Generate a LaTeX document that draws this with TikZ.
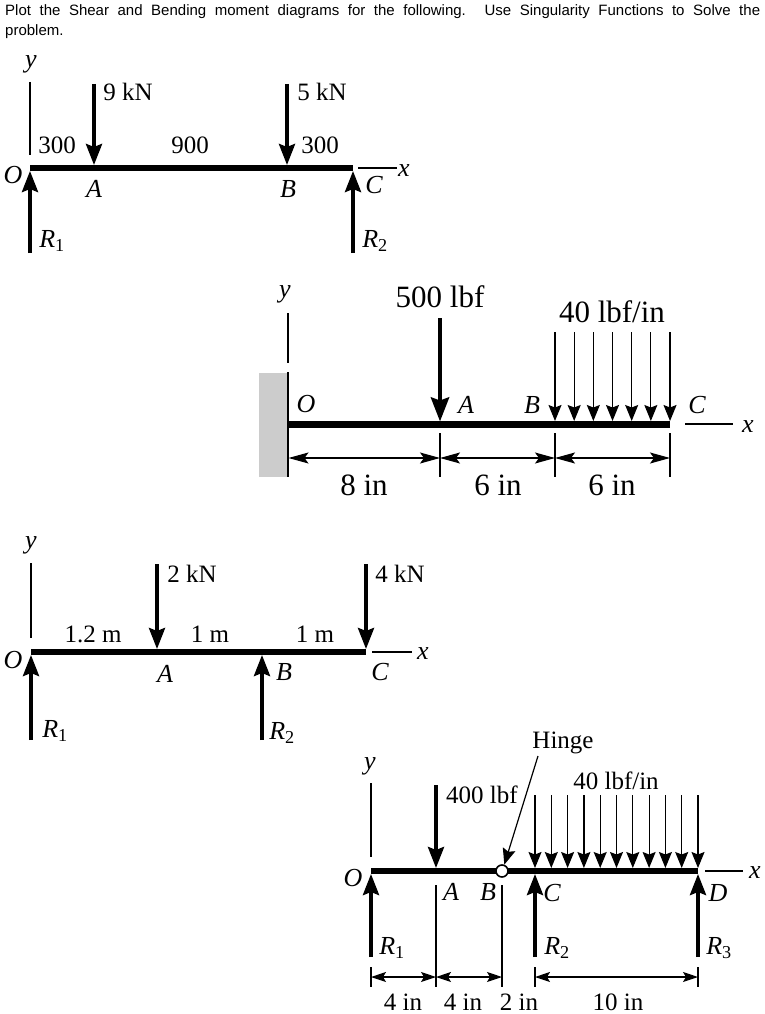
\documentclass[tikz,border=0pt]{standalone}
\usepackage{fontspec}
\setmainfont{Liberation Serif}
\newfontfamily\headfont{Liberation Sans}
\usetikzlibrary{arrows.meta}
\newcommand{\fsz}[1]{\fontsize{#1}{#1}\selectfont}
\tikzset{
  beam/.style={line width=6pt},
  thinline/.style={line width=1.1pt},
  load/.style={line width=3.8pt, shorten >=3pt, -{Stealth[length=21pt,width=16pt,inset=3pt]}},
  dist/.style={line width=1.2pt, -{Stealth[length=16pt,width=13pt,inset=2.5pt]}},
  dim/.style={line width=1.1pt, {Stealth[length=15pt,width=10pt,inset=3pt]}-{Stealth[length=15pt,width=10pt,inset=3pt]}},
  lab/.style={inner sep=0pt, font=\fsz{25}},
  big/.style={inner sep=0pt, font=\fsz{31}},
  var/.style={inner sep=0pt, font=\fsz{26}\itshape}
}
\begin{document}
\begin{tikzpicture}[x=1pt,y=-1pt]
\useasboundingbox (0,0) rectangle (765,1014);
\node (title) [anchor=north west, inner sep=0pt, text width=755pt, font=\headfont\fontsize{15}{19.5}\selectfont, align=justify] at (5,4.5)
  {Plot the Shear and Bending moment diagrams for the following. Use Singularity Functions to Solve the\linebreak problem.};
% first beam
\coordinate (O1) at (30,168);
\coordinate (A1) at (94,168);
\coordinate (B1) at (287,168);
\coordinate (C1) at (353,168);
\coordinate (y1a) at (30,82);
\coordinate (y1b) at (30,155);
\coordinate (x1a) at (358,168);
\coordinate (x1b) at (397,168);
\coordinate (F1) at (94,84);
\coordinate (F2) at (287,84);
\coordinate (R1a) at (30,253);
\coordinate (R1b) at (353,253);
\draw [beam] (O1) -- (C1);
\draw [thinline] (y1a) -- (y1b);
\draw [thinline] (x1a) -- (x1b);
\draw [load] (F1) -- (A1);
\draw [load] (F2) -- (B1);
\draw [load] (R1a) -- (O1);
\draw [load] (R1b) -- (C1);
\node (ylab1) [var] at (31,64) {y};
\node (xlab1) [var] at (404,171) {x};
\node (Olab1) [var] at (13,175) {O};
\node (Alab1) [var] at (94,189) {A};
\node (Blab1) [var] at (288,189) {B};
\node (Clab1) [var] at (374,185) {C};
\node (R1lab1) [var] at (52,241) {R\textsubscript{\upshape 1}};
\node (R2lab1) [var] at (375,241) {R\textsubscript{\upshape 2}};
\node (Flab1) [lab] at (128,92) {9 kN};
\node (Flab2) [lab] at (322,92) {5 kN};
\node (d1a) [lab] at (57,145) {300};
\node (d1b) [lab] at (190,145) {900};
\node (d1c) [lab] at (320,145) {300};
% second beam
\coordinate (O2) at (288,424.5);
\coordinate (A2) at (440,424.5);
\coordinate (B2) at (555,424.5);
\coordinate (C2) at (670,424.5);
\coordinate (y2a) at (288,313);
\coordinate (y2b) at (288,363);
\coordinate (x2a) at (685,424);
\coordinate (x2b) at (733,424);
\coordinate (F3) at (440,318);
\node (wall) [fill=black!20, minimum width=29pt, minimum height=104pt, inner sep=0pt] at (273.5,424.5) {};
\draw [line width=1.8pt] (wall.north east) -- (wall.south east);
\draw [beam, line width=6.5pt] (O2) -- (C2);
\draw [thinline] (y2a) -- (y2b);
\draw [thinline] (x2a) -- (x2b);
\draw [load, line width=4.5pt, -{Stealth[length=24pt,width=18pt,inset=3pt]}] (F3) -- (A2);
\foreach \n in {0,...,6} {
  \coordinate (qa\n) at ({555+\n*19.17},332);
  \coordinate (qb\n) at ({555+\n*19.17},421);
  \draw [dist] (qa\n) -- (qb\n);
}
\coordinate (t2a) at (440,433);
\coordinate (t2b) at (440,477);
\coordinate (t3a) at (555,433);
\coordinate (t3b) at (555,477);
\coordinate (t4a) at (670,433);
\coordinate (t4b) at (670,477);
\draw [thinline] (t2a) -- (t2b);
\draw [thinline] (t3a) -- (t3b);
\draw [thinline] (t4a) -- (t4b);
\coordinate (e1) at (288.5,458);
\coordinate (e2) at (440,458);
\coordinate (e3) at (555,458);
\coordinate (e4) at (670,458);
\draw [dim, {Stealth[length=20pt,width=11pt,inset=4pt]}-{Stealth[length=20pt,width=11pt,inset=4pt]}] (e1) -- (e2);
\draw [dim, {Stealth[length=20pt,width=11pt,inset=4pt]}-{Stealth[length=20pt,width=11pt,inset=4pt]}] (e2) -- (e3);
\draw [dim, {Stealth[length=20pt,width=11pt,inset=4pt]}-{Stealth[length=20pt,width=11pt,inset=4pt]}] (e3) -- (e4);
\node (ylab2) [var] at (285,294) {y};
\node (xlab2) [var] at (748,427) {x};
\node (Olab2) [var] at (306,404) {O};
\node (Alab2) [var] at (466,405) {A};
\node (Blab2) [var] at (532,405) {B};
\node (Clab2) [var] at (697,405) {C};
\node (Flab3) [big] at (440,297) {500 lbf};
\node (qlab2) [big] at (612,312) {40 lbf/in};
\node (d2a) [big] at (364,485) {8 in};
\node (d2b) [big] at (498,485) {6 in};
\node (d2c) [big] at (612,485) {6 in};
% third beam
\coordinate (O3) at (31,652);
\coordinate (A3) at (157,652);
\coordinate (B3) at (262,652);
\coordinate (C3) at (366,652);
\coordinate (y3a) at (31,563);
\coordinate (y3b) at (31,638);
\coordinate (x3a) at (372,652);
\coordinate (x3b) at (412,652);
\coordinate (F4) at (157,564);
\coordinate (F5) at (366,564);
\coordinate (R3a) at (31,740);
\coordinate (R3b) at (262,740);
\draw [beam] (O3) -- (C3);
\draw [thinline] (y3a) -- (y3b);
\draw [thinline] (x3a) -- (x3b);
\draw [load] (F4) -- (A3);
\draw [load] (F5) -- (C3);
\draw [load] (R3a) -- (O3);
\draw [load] (R3b) -- (B3);
\node (ylab3) [var] at (31,545) {y};
\node (xlab3) [var] at (423,654) {x};
\node (Olab3) [var] at (13,660) {O};
\node (Alab3) [var] at (165,674) {A};
\node (Blab3) [var] at (284,672) {B};
\node (Clab3) [var] at (380,672) {C};
\node (R1lab3) [var] at (55,731) {R\textsubscript{\upshape 1}};
\node (R2lab3) [var] at (282,733) {R\textsubscript{\upshape 2}};
\node (Flab4) [lab] at (192,574) {2 kN};
\node (Flab5) [lab] at (400,574) {4 kN};
\node (d3a) [lab] at (93,634) {1.2 m};
\node (d3b) [lab] at (210,634) {1 m};
\node (d3c) [lab] at (315,634) {1 m};
% fourth beam
\coordinate (O4) at (371,871);
\coordinate (A4) at (436,871);
\coordinate (C4) at (535,871);
\coordinate (D4) at (698,871);
\coordinate (y4a) at (371,783);
\coordinate (y4b) at (371,857);
\coordinate (x4a) at (705,871);
\coordinate (x4b) at (743,871);
\coordinate (F6) at (436,785);
\coordinate (R4a) at (371,957);
\coordinate (R4b) at (535,957);
\coordinate (R4c) at (698,957);
\coordinate (hin) at (538,756);
\draw [beam] (O4) -- (D4);
\draw [thinline] (y4a) -- (y4b);
\draw [thinline] (x4a) -- (x4b);
\draw [load] (F6) -- (A4);
\draw [load] (R4a) -- (O4);
\draw [load] (R4b) -- (C4);
\draw [load] (R4c) -- (D4);
\node (B4) [circle, draw, line width=1.6pt, fill=white, minimum size=12pt, inner sep=0pt] at (502,871) {};
\draw [dist] (hin) -- (B4.70);
\foreach \n in {0,...,10} {
  \coordinate (pa\n) at ({535+\n*16.3},795);
  \coordinate (pb\n) at ({535+\n*16.3},868);
  \draw [dist] (pa\n) -- (pb\n);
}
\coordinate (t5a) at (371,967);
\coordinate (t5b) at (371,987);
\coordinate (t6a) at (436,885);
\coordinate (t6b) at (436,987);
\coordinate (t7a) at (502,885);
\coordinate (t7b) at (502,987);
\coordinate (t8a) at (535,967);
\coordinate (t8b) at (535,987);
\coordinate (t9a) at (698,967);
\coordinate (t9b) at (698,987);
\draw [thinline] (t5a) -- (t5b);
\draw [thinline] (t6a) -- (t6b);
\draw [thinline] (t7a) -- (t7b);
\draw [thinline] (t8a) -- (t8b);
\draw [thinline] (t9a) -- (t9b);
\coordinate (g1) at (371,977);
\coordinate (g2) at (436,977);
\coordinate (g3) at (502,977);
\coordinate (g4) at (535,977);
\coordinate (g5) at (698,977);
\draw [dim] (g1) -- (g2);
\draw [dim] (g2) -- (g3);
\draw [dim] (g4) -- (g5);
\node (ylab4) [var] at (370,766) {y};
\node (xlab4) [var] at (755,873) {x};
\node (Olab4) [var] at (353,878) {O};
\node (Alab4) [var] at (451,892) {A};
\node (Blab4) [var] at (488,892) {B};
\node (Clab4) [var] at (552,893) {C};
\node (Dlab4) [var] at (718,893) {D};
\node (R1lab4) [var] at (392,948) {R\textsubscript{\upshape 1}};
\node (R2lab4) [var] at (557,948) {R\textsubscript{\upshape 2}};
\node (R3lab4) [var] at (719,948) {R\textsubscript{\upshape 3}};
\node (hlab) [lab] at (563,743) {Hinge};
\node (Flab6) [lab] at (482,795) {400 lbf};
\node (qlab4) [lab] at (616,781) {40 lbf/in};
\node (d4a) [lab] at (403,1002) {4 in};
\node (d4b) [lab] at (463,1002) {4 in};
\node (d4c) [lab] at (519,1002) {2 in};
\node (d4d) [lab] at (618,1002) {10 in};
\end{tikzpicture}
\end{document}
